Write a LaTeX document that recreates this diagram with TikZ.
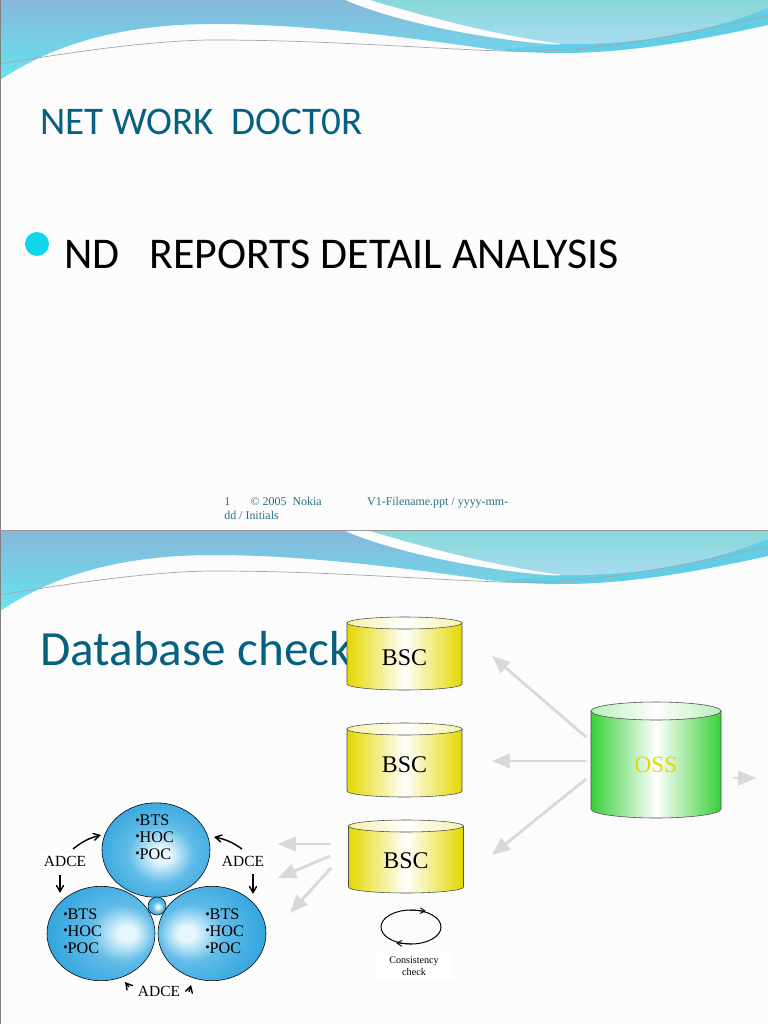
\documentclass[tikz,border=0pt]{standalone}
\usepackage{fontspec}
\setmainfont{Liberation Serif}
\newfontfamily\slidefont{Carlito}
\usetikzlibrary{shapes,arrows,calc}

\definecolor{titleblue}{HTML}{05617F}
\definecolor{footerblue}{HTML}{2A6F88}
\definecolor{bulletcyan}{HTML}{10D8E8}
\definecolor{arrowgrey}{HTML}{D9D9D9}
\definecolor{bscyellow}{HTML}{E4D800}
\definecolor{ossgreen}{HTML}{38D038}
\definecolor{wavetop}{HTML}{86B8DA}
\definecolor{wavelow}{HTML}{66E4F0}
\definecolor{waveband}{HTML}{62CEE6}
\definecolor{tealtop}{HTML}{88D8D8}
\definecolor{teallow}{HTML}{A8DCF0}
\definecolor{cellglow}{HTML}{E6F7FD}
\definecolor{cellmid}{HTML}{62BCE8}
\definecolor{cellblue}{HTML}{2AA2DC}
\definecolor{celledge}{HTML}{1884C6}

\pgfdeclareradialshading{celltop}{\pgfpoint{0.1cm}{-0.1cm}}{color(0bp)=(cellglow); color(4bp)=(cellglow); color(15bp)=(cellmid); color(32bp)=(cellblue); color(60bp)=(celledge)}
\pgfdeclareradialshading{cellleft}{\pgfpoint{0.45cm}{0cm}}{color(0bp)=(cellglow); color(4bp)=(cellglow); color(15bp)=(cellmid); color(34bp)=(cellblue); color(66bp)=(celledge)}
\pgfdeclareradialshading{cellright}{\pgfpoint{-0.45cm}{0cm}}{color(0bp)=(cellglow); color(4bp)=(cellglow); color(15bp)=(cellmid); color(34bp)=(cellblue); color(66bp)=(celledge)}

% name, x, top, bottom, x radius, y radius, colour, text style, text
\newcommand{\dbcan}[9]{
        \path[draw=black!70,left color=#7,right color=#7,middle color=white] (#2-#5,#3+#6) -- (#2-#5,#4-#6) arc (180:0:#5 and #6) -- (#2+#5,#3+#6) -- cycle;
        \path[draw=black!70,left color=#7!35!white,right color=#7!35!white,middle color=white] (#2,#3+#6) ellipse (#5 and #6);
        \node[#8] (#1) at (#2,{(#3+#4)/2+4.5}) {#9};
}
\newcommand{\cellitems}{\cellbullet BTS\\\cellbullet HOC\\\cellbullet POC}
\newcommand{\cellbullet}{\raisebox{0.08em}{\fontsize{9}{9}\selectfont\textbullet}}

\begin{document}
\begin{tikzpicture}[x=0.025cm,y=-0.025cm]
        \tikzstyle{bsc} = [inner sep=0pt,font=\fontsize{17}{17}\selectfont];
        \tikzstyle{oss} = [inner sep=0pt,text=bscyellow,font=\fontsize{16.5}{17}\selectfont];
        \tikzstyle{cell} = [draw=black,ellipse,minimum width=2.7cm,minimum height=2.36cm,inner sep=0pt];
        \tikzstyle{cellinfo} = [anchor=west,align=left,inner sep=0pt,font=\fontsize{11.5}{12}\selectfont];
        \tikzstyle{adce} = [fill=white,inner sep=2pt,font=\fontsize{11}{11}\selectfont];
        \tikzstyle{feed} = [->,>=triangle 45,draw=arrowgrey,line width=2pt];
        \tikzstyle{swap} = [->,>=angle 60,black,line width=1pt];

        % page and both waves
        \fill[white!99!black] (0,0) rectangle (768,1024);
        \useasboundingbox (0,0) rectangle (768,1024);
        \foreach \slidetop in {0,531} {
            \begin{scope}[shift={(0,\slidetop)}]
                \shade[top color=wavetop,bottom color=wavelow] (0,0) -- (345,0) .. controls (400,24) and (500,42) .. (563,45) -- (495,50) .. controls (400,36) and (300,24) .. (215,24) .. controls (130,24) and (60,40) .. (0,80) -- cycle;
                \fill[waveband] (495,50) .. controls (520,52) and (540,53) .. (563,53) .. controls (630,53) and (700,40) .. (768,25) -- (768,7) .. controls (700,35) and (630,44) .. (563,44) -- cycle;
                \shade[top color=tealtop,bottom color=teallow] (370,0) -- (768,0) -- (768,8) .. controls (700,35) and (630,45) .. (563,44) .. controls (500,36) and (430,18) .. (370,0);
                \draw[gray!70,line width=0.5pt] (0,64) .. controls (60,54) and (150,40) .. (215,40) .. controls (320,40) and (420,48) .. (500,51) .. controls (600,54) and (680,34) .. (768,16);
            \end{scope}
        }
        \draw[gray,line width=0.6pt] (0,0) -- (0,1024);
        \draw[gray!80,line width=0.6pt] (0,530.5) -- (768,530.5);

        % first slide
        \node[anchor=base west,inner sep=0pt,text=titleblue,font=\slidefont\fontsize{27.8}{28}\selectfont] (title) at (40,135) {NET WORK\ \ DOCT0R};
        \node[circle,fill=bulletcyan,minimum size=0.6cm,inner sep=0pt] (bullet) at (37,244) {};
        \node[anchor=base west,inner sep=0pt,font=\slidefont\fontsize{31.2}{31}\selectfont] (reports) at (64,268) {ND\ \ \ REPORTS DETAIL ANALYSIS};
        \node[anchor=base west,inner sep=0pt,text=footerblue,font=\fontsize{8.5}{10}\selectfont] (footera) at (224,505) {1\hspace{1.7em}\textcopyright{} 2005\ \ Nokia\hspace{3.8em}V1-Filename.ppt / yyyy-mm-};
        \node[anchor=base west,inner sep=0pt,text=footerblue,font=\fontsize{8.5}{10}\selectfont] (footerb) at (224,519) {dd / Initials};

        % second slide
        \node[anchor=base west,inner sep=0pt,text=titleblue,font=\slidefont\fontsize{35}{35}\selectfont] (dbcheck) at (40,665) {Database check};

        \dbcan{bsca}{404.5}{617}{690}{57.5}{6}{bscyellow}{bsc}{BSC}
        \dbcan{bscb}{404.5}{723}{797}{57.5}{6}{bscyellow}{bsc}{BSC}
        \dbcan{bscc}{406}{820}{893}{57.5}{6}{bscyellow}{bsc}{BSC}
        \dbcan{oss}{656}{702}{818}{65}{9}{ossgreen}{oss}{OSS}

        \coordinate (ossout) at (733,778);
        \coordinate (ossend) at (756,778);
        \coordinate (ossa) at (586,737);
        \coordinate (ossb) at (586,761);
        \coordinate (ossc) at (586,779);
        \coordinate (bscain) at (492,656);
        \coordinate (bscbin) at (492,761);
        \coordinate (bsccin) at (492,855);
        \draw[feed] (ossa) -- (bscain);
        \draw[feed] (ossb) -- (bscbin);
        \draw[feed] (ossc) -- (bsccin);
        \draw[feed] (ossout) -- (ossend);

        \coordinate (bscca) at (331,844);
        \coordinate (bsccb) at (330,856);
        \coordinate (bsccc) at (331,868);
        \coordinate (cella) at (278,844);
        \coordinate (cellb) at (278,878);
        \coordinate (cellc) at (290,913);
        \draw[feed] (bscca) -- (cella);
        \draw[feed] (bsccb) -- (cellb);
        \draw[feed] (bsccc) -- (cellc);

        % the three cells
        \node[cell,shading=celltop] (celltop) at (156,850) {};
        \node[cell,shading=cellleft] (cellleft) at (101,933.5) {};
        \node[cell,shading=cellright] (cellright) at (212,933.5) {};
        \node[draw=black,circle,minimum size=0.45cm,inner sep=0pt,shading=celltop] (hub) at (157,906) {};

        \node[cellinfo] (infotop) at (135,837) {\cellitems};
        \node[cellinfo] (infoleft) at (63,931) {\cellitems};
        \node[cellinfo] (inforight) at (205,931) {\cellitems};

        \node[adce] (adceleft) at (65,861) {ADCE};
        \node[adce] (adceright) at (243,861) {ADCE};
        \node[adce] (adcebottom) at (159,991) {ADCE};

        \coordinate (lefta) at (73,849);
        \coordinate (leftb) at (101,835);
        \coordinate (righta) at (242,849);
        \coordinate (rightb) at (214,837);
        \coordinate (adcedownl) at (60,875);
        \coordinate (celldownl) at (60,893);
        \coordinate (adcedownr) at (253,874);
        \coordinate (celldownr) at (253,894);
        \coordinate (adceupl) at (129,987);
        \coordinate (cellupl) at (125,982);
        \coordinate (adceupr) at (189,992);
        \coordinate (cellupr) at (191,985);
        \draw[swap] (lefta) to[bend left=12] (leftb);
        \draw[swap] (righta) to[bend right=12] (rightb);
        \draw[swap] (adcedownl) -- (celldownl);
        \draw[swap] (adcedownr) -- (celldownr);
        \draw[swap] (adceupl) -- (cellupl);
        \draw[swap] (adceupr) -- (cellupr);

        % consistency loop
        \node[draw=black,ellipse,line width=0.7pt,minimum width=1.5cm,minimum height=0.85cm,inner sep=0pt] (loop) at (411,927) {};
        \coordinate (loopa) at (410,910);
        \coordinate (loopb) at (426,911);
        \coordinate (loopc) at (412,944);
        \coordinate (loopd) at (396,943);
        \draw[swap,line width=0.6pt] (loopa) -- (loopb);
        \draw[swap,line width=0.6pt] (loopc) -- (loopd);
        \node[fill=white,align=center,minimum width=1.95cm,minimum height=0.7cm,inner sep=0pt,font=\fontsize{7.2}{8.5}\selectfont] (consistency) at (414,966) {Consistency\\check};
\end{tikzpicture}
\end{document}
